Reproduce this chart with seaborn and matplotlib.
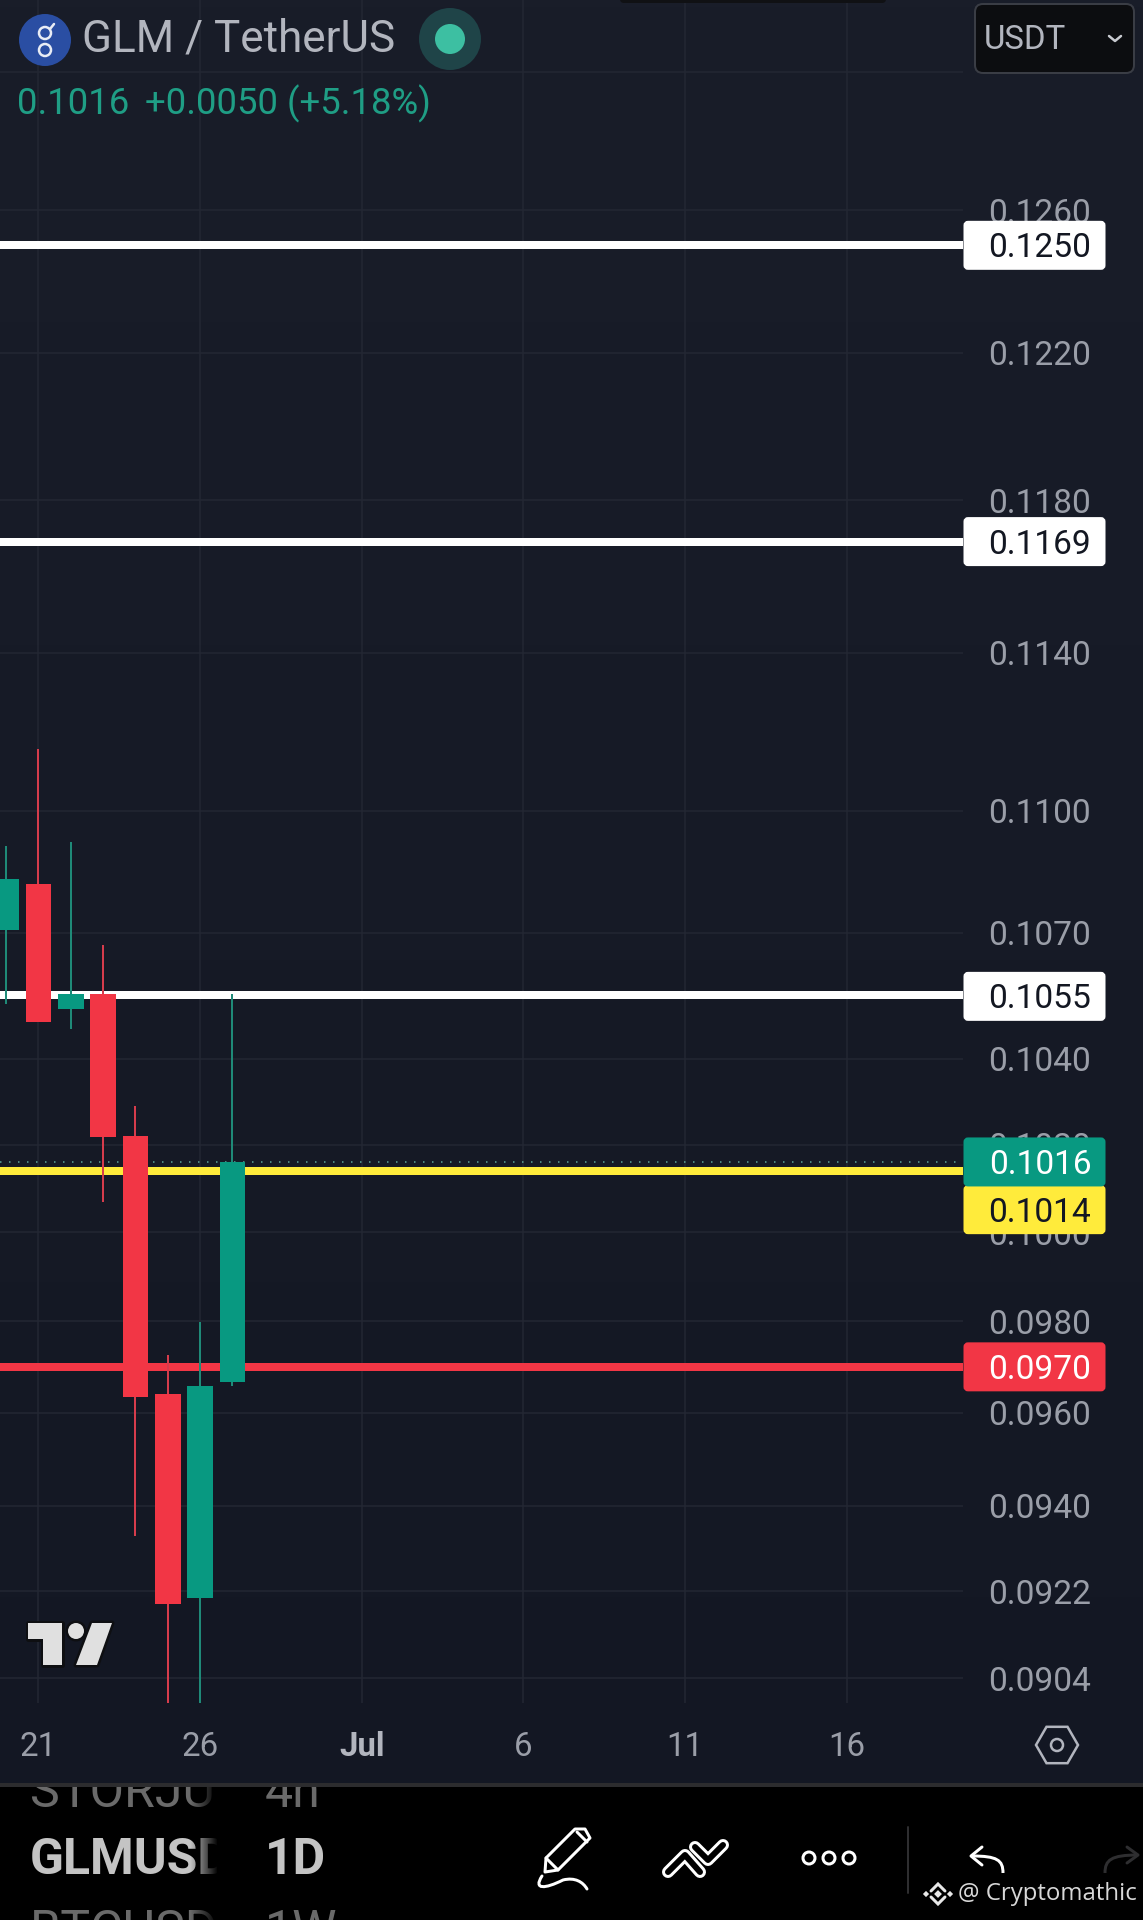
import matplotlib
matplotlib.use('Agg')
import matplotlib.pyplot as plt
import numpy as np
import pandas as pd
import seaborn as sns
from matplotlib.colors import LinearSegmentedColormap
from matplotlib.patches import Circle, FancyBboxPatch, Polygon, Rectangle, RegularPolygon, PathPatch
from matplotlib.path import Path
from matplotlib.ticker import NullLocator

# candles
candle_dates = pd.to_datetime(['2023-06-20', '2023-06-21', '2023-06-22', '2023-06-23',
                               '2023-06-24', '2023-06-25', '2023-06-26', '2023-06-27'])
opens = [0.10707, 0.10819, 0.10517, 0.10553, 0.10219, 0.09640, 0.09205, 0.09666]
closes = [0.10831, 0.10486, 0.10553, 0.10217, 0.09635, 0.09194, 0.09657, 0.10160]
highs = [0.10913, 0.11155, 0.10923, 0.10671, 0.10289, 0.09727, 0.09798, 0.10553]
lows = [0.10529, 0.10486, 0.10470, 0.10068, 0.09337, 0.08950, 0.08950, 0.09657]

# price axis
price_ticks = [0.1300, 0.1260, 0.1220, 0.1180, 0.1140, 0.1100, 0.1070, 0.1040,
               0.1020, 0.1000, 0.0980, 0.0960, 0.0940, 0.0922, 0.0904]
price_labels = ['', '0.1260', '0.1220', '0.1180', '0.1140', '0.1100', '0.1070', '0.1040',
                '0.1020', '0.1000', '0.0980', '0.0960', '0.0940', '0.0922', '0.0904']

# time axis
time_ticks = pd.to_datetime(['2023-06-21', '2023-06-26', '2023-07-01',
                             '2023-07-06', '2023-07-11', '2023-07-16'])
time_labels = ['21', '26', 'Jul', '6', '11', '16']

# horizontal levels drawn on the chart
level_prices = [0.1250, 0.1169, 0.1055, 0.1014, 0.0970]
level_colors = ['#ffffff', '#ffffff', '#ffffff', '#ffeb3b', '#f23645']
level_text_colors = ['#131722', '#131722', '#131722', '#131722', '#ffffff']
last_price = 0.1016

BG = '#161a25'
RED = '#f23645'
GREEN = '#089981'
AXIS_TEXT = '#9a9ea8'
W, H = 1143, 1920
PANE_RIGHT, PANE_BOTTOM = 963, 1703


def px(n):
    # font sizes and line widths are thought of in screen pixels
    return n * 72 / 100


sns.set_theme(style='dark', rc={'axes.facecolor': 'none', 'figure.facecolor': BG})
plt.rcParams['font.family'] = ['Roboto', 'DejaVu Sans']

fig = plt.figure(figsize=(W / 100, H / 100), dpi=100)

# the screenshot gets a bit darker towards the bottom
bg = fig.add_axes([0, 0, 1, 1], zorder=-1)
bg_cmap = LinearSegmentedColormap.from_list('bg', ['#191d29', '#131723'])
bg.imshow(np.linspace(0, 1, 256).reshape(-1, 1), cmap=bg_cmap, aspect='auto')
bg.axis('off')

ax = fig.add_axes([0, 1 - PANE_BOTTOM / H, PANE_RIGHT / W, PANE_BOTTOM / H])
ax.set_yscale('log')

# wicks
wicks = pd.DataFrame({
    'date': list(candle_dates) * 2,
    'price': highs + lows,
    'up': [c >= o for o, c in zip(opens, closes)] * 2,
})
sns.lineplot(data=wicks, x='date', y='price', units='date', estimator=None, hue='up',
             palette={True: '#1f8a78', False: '#d63c4c'}, linewidth=px(2), legend=False,
             solid_capstyle='butt', sort=False, ax=ax, zorder=4)

# levels go below the candles
for price, color in zip(level_prices, level_colors):
    ax.axhline(price, color=color, lw=px(8), solid_capstyle='butt', zorder=2)
ax.axhline(last_price, color='#5fa89c', lw=px(1.5), ls=(0, (1, 5)), zorder=2.5)

# bodies
bottoms = [min(o, c) for o, c in zip(opens, closes)]
heights = [abs(c - o) for o, c in zip(opens, closes)]
colors = [GREEN if c >= o else RED for o, c in zip(opens, closes)]
ax.bar(candle_dates, heights, bottom=bottoms, width=0.8, color=colors, linewidth=0, zorder=5)

ax.set_xlim(pd.Timestamp('2023-06-19 19:26'), pd.Timestamp('2023-07-19 14:24'))
ax.set_ylim(0.0899, 0.13213)
ax.set_yticks(price_ticks, price_labels)
ax.yaxis.set_minor_locator(NullLocator())
ax.yaxis.tick_right()
ax.set_xticks(time_ticks, time_labels)
ax.xaxis.set_minor_locator(NullLocator())
ax.set_xlabel('')
ax.set_ylabel('')
ax.tick_params(axis='y', length=0, pad=px(25), labelsize=px(33.5), labelcolor=AXIS_TEXT)
ax.tick_params(axis='x', length=0, pad=px(28), labelsize=px(33), labelcolor=AXIS_TEXT)
for lab in ax.get_xticklabels():
    if lab.get_text() == 'Jul':
        lab.set_fontweight('bold')
        lab.set_color('#b2b5be')
ax.grid(True, color='#232733', lw=px(1.5))
ax.set_axisbelow(True)
for s in ax.spines.values():
    s.set_visible(False)

# everything around the chart, in screen pixels
ui = fig.add_axes([0, 0, 1, 1], facecolor='none', zorder=10)
ui.set_xlim(0, W)
ui.set_ylim(H, 0)
ui.axis('off')


def price_y(p):
    return ui.transData.inverted().transform(ax.transData.transform((0, p)))[1]


def badge(y, text, face, text_color, top=25, bottom=25):
    ui.add_patch(FancyBboxPatch((965, y - top + 2), 139, top + bottom - 4,
                                boxstyle='round,pad=0,rounding_size=3', fc=face, ec=face, lw=px(3)))
    ui.text(1040, y + 3, text, color=text_color, fontsize=px(33.5), ha='center', va='center')


# price badges, the yellow one gets pushed down by the last price
offsets = [0, 0, 1, 39, 0]
for price, color, tc, off in zip(level_prices, level_colors, level_text_colors, offsets):
    badge(price_y(price) + off, f'{price:.4f}', color, tc)
badge(price_y(last_price), f'{last_price:.4f}', GREEN, '#ffffff')

# header
ui.add_patch(Circle((45, 40), 26, fc='#2a4ea3', ec='none'))
ui.add_patch(Circle((45, 33), 6, fc='none', ec='#e8ecf5', lw=px(2.5)))
ui.add_patch(Circle((45, 50), 6, fc='none', ec='#e8ecf5', lw=px(2.5)))
ui.plot([50, 54], [29, 24], color='#e8ecf5', lw=px(2.5))
ui.text(82, 39, 'GLM / TetherUS', color='#b2b5be', fontsize=px(44), va='center', ha='left')
ui.add_patch(Circle((450, 39), 31, fc='#1f4448', ec='none'))
ui.add_patch(Circle((450, 39), 15, fc='#3dbfa2', ec='none'))
ui.text(17, 104, '0.1016', color='#1f9e85', fontsize=px(36.5), va='center', ha='left')
ui.text(145, 104, '+0.0050 (+5.18%)', color='#1f9e85', fontsize=px(36.5), va='center', ha='left')
ui.add_patch(FancyBboxPatch((975, 4), 159, 69, boxstyle='round,pad=0,rounding_size=8',
                            fc='#0c0d10', ec='#3a3d45', lw=px(2)))
ui.text(984, 40, 'USDT', color='#b2b5be', fontsize=px(33), va='center', ha='left')
ui.plot([1109, 1115, 1121], [36, 41, 36], color='#c8cad0', lw=px(2.5))
ui.add_patch(FancyBboxPatch((620, -8), 266, 11, boxstyle='round,pad=0,rounding_size=4',
                            fc='#101114', ec='none'))

# tradingview logo
t_shape = [(28, 1623), (62, 1623), (62, 1665), (43, 1665), (43, 1639), (28, 1639)]
slash = [(76, 1665), (97, 1665), (112, 1623), (92, 1623)]
logo_edge = dict(fc='#e0e0e0', ec='#0e0f12', lw=px(5), joinstyle='round')
ui.add_patch(Polygon(t_shape, **logo_edge))
ui.add_patch(Polygon(slash, **logo_edge))
ui.add_patch(Circle((76, 1631), 8, **logo_edge))
ui.add_patch(Polygon(t_shape, fc='#e0e0e0', ec='none'))
ui.add_patch(Polygon(slash, fc='#e0e0e0', ec='none'))
ui.add_patch(Circle((76, 1631), 8, fc='#e0e0e0', ec='none'))

# settings icon on the time axis
ui.add_patch(RegularPolygon((1057, 1745), 6, radius=21, orientation=np.pi / 2,
                            fc='none', ec='#b2b5be', lw=px(2.5)))
ui.add_patch(Circle((1057, 1745), 6, fc='none', ec='#b2b5be', lw=px(2.5)))

# toolbar at the bottom
ui.add_patch(Rectangle((0, 1785), W, H - 1785, fc='#000000', ec='none'))
ui.plot([0, W], [1785, 1785], color='#2c2c2e', lw=px(4))

bar_clip = Rectangle((0, 1787), W, H - 1787, transform=ui.transData)
name_clip = Rectangle((0, 1787), 217, H - 1787, transform=ui.transData)
for name, tf, y, col, weight in [('STORJU', '4h', 1793, '#6a6a6a', 'normal'),
                                 ('GLMUSD', '1D', 1861, '#c4c4c4', 'bold'),
                                 ('BTCUSD', '1W', 1932, '#6a6a6a', 'normal')]:
    t1 = ui.text(30, y, name, color=col, fontsize=px(50), fontweight=weight, va='center', ha='left')
    t1.set_clip_on(True)
    t1.set_clip_path(name_clip)
    t2 = ui.text(265, y, tf, color=col, fontsize=px(50), fontweight=weight, va='center', ha='left')
    t2.set_clip_on(True)
    t2.set_clip_path(bar_clip)

# fade the clipped symbol name
fade = np.zeros((1, 40, 4))
fade[0, :, 3] = np.linspace(0, 1, 40)
ui.imshow(fade, extent=(190, 218, 1925, 1787), aspect='auto', zorder=6)
ui.set_xlim(0, W)
ui.set_ylim(H, 0)

icon = dict(color='#ffffff', lw=px(3), solid_joinstyle='round', solid_capstyle='round')
# pencil
ui.add_patch(Polygon([(545, 1872), (546, 1858), (575, 1829), (585, 1829), (590, 1838), (558, 1870)],
                     fc='none', ec='#ffffff', lw=px(3), joinstyle='round'))
ui.plot([546, 558], [1858, 1870], **icon)
ui.plot([577, 587], [1832, 1842], **icon)
ui.add_patch(PathPatch(Path([(542, 1876), (533, 1890), (545, 1889), (563, 1880),
                             (575, 1877), (583, 1882), (587, 1889)],
                            [Path.MOVETO] + [Path.CURVE4] * 6),
                       fc='none', ec='#ffffff', lw=px(3), capstyle='round'))
# trend tool
for line in ([(668, 1872), (685, 1855), (700, 1872)], [(695, 1847), (708, 1860), (723, 1845)]):
    xs, ys = zip(*line)
    ui.plot(xs, ys, color='#ffffff', lw=px(12), solid_joinstyle='round', solid_capstyle='round')
    ui.plot(xs, ys, color='#000000', lw=px(6), solid_joinstyle='round', solid_capstyle='round')
# more
for x in (809, 829, 849):
    ui.add_patch(Circle((x, 1858), 6, fc='none', ec='#ffffff', lw=px(3)))
ui.plot([908, 908], [1827, 1893], color='#2e2e30', lw=px(2))
# undo, redo
ui.add_patch(PathPatch(Path([(1003, 1873), (1003, 1860), (997, 1856), (972, 1856)],
                            [Path.MOVETO, Path.CURVE4, Path.CURVE4, Path.CURVE4]),
                       fc='none', ec='#ffffff', lw=px(3)))
ui.plot([982, 971, 982], [1847, 1856, 1865], **icon)
ui.add_patch(PathPatch(Path([(1105, 1873), (1105, 1860), (1111, 1855), (1138, 1855)],
                            [Path.MOVETO, Path.CURVE4, Path.CURVE4, Path.CURVE4]),
                       fc='none', ec='#2e2e30', lw=px(3)))
ui.plot([1127, 1138, 1127], [1847, 1855, 1863], color='#2e2e30', lw=px(3))

# watermark
wm = dict(color='#e8e8e8', lw=px(3), solid_joinstyle='miter', zorder=7)
ui.plot([931, 938, 945], [1891, 1884, 1891], **wm)
ui.plot([931, 938, 945], [1897, 1904, 1897], **wm)
ui.scatter([926, 950, 938], [1894, 1894, 1894], marker='D', s=[10, 10, 16], c='#e8e8e8', linewidths=0, zorder=7)
ui.text(958, 1894, '@ Cryptomathic', color='#d8d8d8', fontsize=px(24), family='Open Sans',
        va='center', ha='left', zorder=7)

fig.savefig('out.png', dpi=100, facecolor=BG)
